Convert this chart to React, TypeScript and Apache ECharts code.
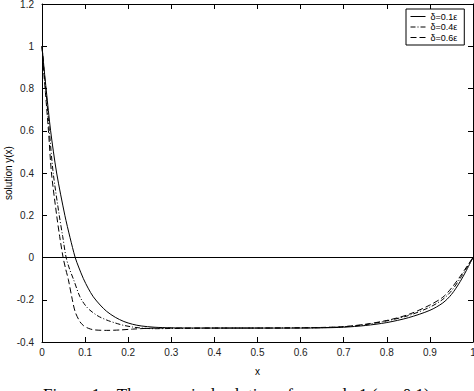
import React, { useEffect, useRef } from "react";
import * as echarts from "echarts";

const seriesNames = ["δ=0.1ε", "δ=0.4ε", "δ=0.6ε"];

const solidPts: [number, number][] = [
  [0, 1.0], [0.005, 0.89], [0.01, 0.79], [0.02, 0.6], [0.034, 0.4], [0.053, 0.2],
  [0.065, 0.095], [0.077, 0.0], [0.085, -0.045], [0.096, -0.1], [0.107, -0.145],
  [0.119, -0.186], [0.135, -0.225], [0.15, -0.255], [0.17, -0.283], [0.19, -0.303],
  [0.21, -0.316], [0.23, -0.324], [0.26, -0.33], [0.3, -0.333], [0.35, -0.334],
  [0.5, -0.334], [0.6, -0.334], [0.65, -0.333], [0.7, -0.33], [0.75, -0.322],
  [0.8, -0.308], [0.85, -0.285], [0.9, -0.25], [0.93, -0.215], [0.95, -0.175],
  [0.97, -0.115], [0.985, -0.06], [1.0, 0.0],
];

const dashDotPts: [number, number][] = [
  [0, 1.0], [0.005, 0.88], [0.01, 0.77], [0.017, 0.6], [0.026, 0.4], [0.04, 0.2],
  [0.048, 0.1], [0.056, 0.0], [0.064, -0.055], [0.073, -0.103], [0.088, -0.186],
  [0.1, -0.225], [0.111, -0.249], [0.13, -0.277], [0.15, -0.296], [0.17, -0.31],
  [0.189, -0.321], [0.21, -0.329], [0.23, -0.334], [0.26, -0.337], [0.3, -0.336],
  [0.35, -0.335], [0.4, -0.334], [0.5, -0.334], [0.6, -0.333], [0.65, -0.332],
  [0.7, -0.328], [0.75, -0.318], [0.8, -0.3], [0.85, -0.275], [0.9, -0.235],
  [0.93, -0.198], [0.95, -0.158], [0.97, -0.1], [0.985, -0.05], [1.0, 0.0],
];

const dashedPts: [number, number][] = [
  [0, 1.0], [0.004, 0.88], [0.008, 0.78], [0.015, 0.6], [0.022, 0.4], [0.034, 0.2],
  [0.041, 0.1], [0.049, 0.0], [0.055, -0.055], [0.061, -0.103], [0.069, -0.186],
  [0.077, -0.257], [0.088, -0.304], [0.096, -0.322], [0.104, -0.332], [0.113, -0.339],
  [0.123, -0.343], [0.15, -0.345], [0.181, -0.343], [0.21, -0.339], [0.25, -0.335],
  [0.3, -0.334], [0.4, -0.334], [0.5, -0.334], [0.6, -0.333], [0.65, -0.331],
  [0.7, -0.327], [0.75, -0.316], [0.8, -0.298], [0.85, -0.27], [0.9, -0.225],
  [0.93, -0.188], [0.95, -0.145], [0.97, -0.09], [0.985, -0.045], [1.0, 0.0],
];

const zeroLine: [number, number][] = [[0, 0], [1, 0]];

const xTicks = { min: 0, max: 1, interval: 0.1 };
const yTicks = { min: -0.4, max: 1.2, interval: 0.2 };

const captionText = "Figure 1.   The numerical solution of example 1 (ε = 0.1).";

export default function App() {
  const ref = useRef<HTMLDivElement>(null);
  useEffect(() => {
    if (!ref.current) return;
    const chart = echarts.init(ref.current, null, { renderer: "svg" });
    const font = "'Liberation Sans', Arial, sans-serif";
    const axisLineStyle = { color: "#000", width: 1 };
    const baseX = {
      type: "value" as const,
      min: xTicks.min,
      max: xTicks.max,
      interval: xTicks.interval,
      axisLine: { show: true, onZero: false, lineStyle: axisLineStyle },
      axisTick: { show: true, inside: true, length: 5, lineStyle: axisLineStyle },
      splitLine: { show: false },
    };
    const baseY = {
      type: "value" as const,
      min: yTicks.min,
      max: yTicks.max,
      interval: yTicks.interval,
      axisLine: { show: true, onZero: false, lineStyle: axisLineStyle },
      axisTick: { show: true, inside: true, length: 5, lineStyle: axisLineStyle },
      splitLine: { show: false },
    };
    const mk = (name: string, data: [number, number][], type: any) => ({
      name,
      type: "line",
      data,
      symbol: "none",
      smooth: 0.3,
      lineStyle: { color: "#000", width: 1, type },
      itemStyle: { color: "#000" },
      silent: true,
    });
    chart.setOption({
      animation: false,
      backgroundColor: "#fff",
      grid: { left: 42, right: 1, top: 4, bottom: 49, containLabel: false, outerBoundsMode: "none" },
      xAxis: [
        {
          ...baseX,
          position: "bottom",
          name: "x",
          nameLocation: "middle",
          nameGap: 24,
          nameMoveOverlap: false,
          nameTextStyle: { color: "#000", fontSize: 10, fontFamily: font },
          axisLabel: { show: true, color: "#222", fontSize: 10, fontFamily: font, margin: 5 },
        },
        { ...baseX, position: "top", axisLabel: { show: false } },
      ],
      yAxis: [
        {
          ...baseY,
          position: "left",
          name: "solution y(x)",
          nameLocation: "middle",
          nameGap: 29,
          nameMoveOverlap: false,
          nameTextStyle: { color: "#000", fontSize: 10, fontFamily: font },
          axisLabel: { show: true, color: "#222", fontSize: 10, fontFamily: font, margin: 8 },
        },
        { ...baseY, position: "right", axisLabel: { show: false } },
      ],
      legend: {
        data: seriesNames,
        orient: "vertical",
        left: 406,
        top: 9,
        padding: [3, 7, 3, 4],
        itemWidth: 15,
        itemHeight: 9,
        itemGap: 1.5,
        backgroundColor: "#fff",
        borderColor: "#000",
        borderWidth: 1,
        borderRadius: 0,
        itemStyle: { opacity: 0 },
        lineStyle: { width: 1 },
        textStyle: { color: "#000", fontSize: 9, fontFamily: font },
        selectedMode: false,
      },
      series: [
        {
          name: "zero",
          type: "line",
          data: zeroLine,
          symbol: "none",
          lineStyle: { color: "#000", width: 1 },
          silent: true,
        },
        mk(seriesNames[0], solidPts, "solid"),
        mk(seriesNames[1], dashDotPts, [5, 2, 1, 2]),
        mk(seriesNames[2], dashedPts, [6, 3]),
      ],
      graphic: [
        {
          type: "text",
          left: 43,
          top: 386,
          style: {
            text: captionText,
            fill: "#000",
            fontSize: 17,
            fontFamily: "'Liberation Serif', 'Times New Roman', serif",
          },
        },
      ],
    });
    return () => chart.dispose();
  }, []);
  return (
    <div
      ref={ref}
      style={{ position: "fixed", left: 0, top: 0, width: 474, height: 391, overflow: "hidden" }}
    />
  );
}
